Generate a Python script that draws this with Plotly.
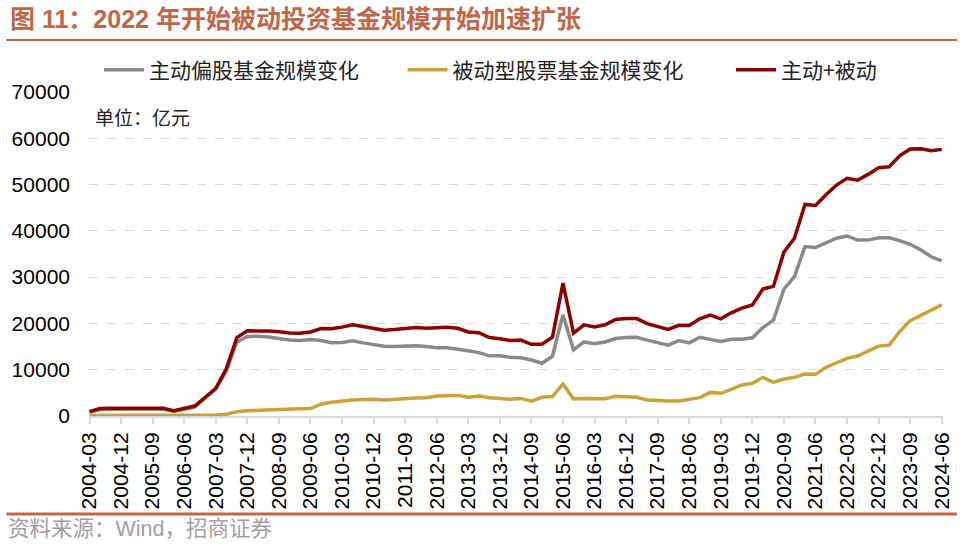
import plotly.graph_objects as go

quarters = [f"{y}-{m:02d}" for y in range(2004, 2025) for m in (3, 6, 9, 12)][:82]

active = [850, 1400, 1500, 1450, 1450, 1450, 1450, 1500, 1000, 1450,
          1950, 3900, 5800, 9700, 16000, 17200, 17250, 17050, 16750, 16400,
          16300, 16500, 16300, 15850, 15900, 16250, 15800, 15400, 15050, 15000,
          15100, 15200, 15000, 14750, 14750, 14500, 14100, 13700, 13000, 13000,
          12700, 12600, 12100, 11400, 12900, 21900, 14300, 16000, 15600, 16000,
          16750, 16950, 17000, 16400, 15900, 15300, 16300, 15800, 17000, 16600,
          16100, 16600, 16600, 16900, 19100, 20700, 27400, 30100, 36600, 36400,
          37300, 38400, 38900, 38000, 38000, 38500, 38500, 37900, 37100, 35900,
          34400, 33500]

passive = [100, 150, 150, 150, 150, 150, 150, 150, 150, 150,
           150, 150, 200, 400, 900, 1150, 1250, 1300, 1500, 1550,
           1550, 1600, 2550, 2950, 3250, 3450, 3550, 3600, 3450, 3650,
           3800, 3900, 3950, 4300, 4400, 4450, 4050, 4300, 3950, 3700,
           3600, 3800, 3200, 4050, 4200, 6900, 3700, 3800, 3750, 3750,
           4250, 4200, 4050, 3460, 3310, 3240, 3240, 3670, 3960, 5100,
           4900, 5750, 6700, 7050, 8350, 7270, 7990, 8350, 9070, 9000,
           10500, 11500, 12450, 12950, 14100, 15100, 15300, 18200, 20600, 21800,
           22900, 24000]

total = [950, 1600, 1650, 1650, 1650, 1650, 1650, 1650, 1150, 1650,
         2150, 4050, 6000, 10200, 16950, 18400, 18450, 18350, 18200, 17950,
         17900, 18150, 18900, 18850, 19200, 19700, 19350, 19000, 18550, 18700,
         18900, 19100, 18950, 19050, 19150, 18950, 18150, 18000, 16950, 16700,
         16300, 16400, 15500, 15500, 17000, 28700, 17900, 19700, 19250, 19700,
         20850, 21050, 21050, 19950, 19300, 18700, 19600, 19550, 21000, 21800,
         21000, 22300, 23300, 24000, 27450, 28000, 35400, 38400, 45700, 45500,
         47800, 49900, 51350, 50950, 52200, 53650, 53850, 56200, 57700, 57750,
         57300, 57600]

names = ["主动偏股基金规模变化", "被动型股票基金规模变化", "主动+被动"]
colors = ["#8A8A8A", "#C9A23A", "#8B0000"]
y_ticks = [0, 10000, 20000, 30000, 40000, 50000, 60000, 70000]
x_ticks = quarters[::3]

W, H = 965, 546
L, R, T, B = 88, 946, 92, 416


def px(x):
    return (x - L) / (R - L)


def py(y):
    return (B - y) / (B - T)


FONT = "Liberation Sans, Arial, Noto Sans CJK SC"
CJK = "Noto Sans CJK SC, Liberation Sans"
TITLE_C = "#C0674A"

fig = go.Figure()
legend_ids = ["legend", "legend2", "legend3"]
for series, name, color, lg in zip([active, passive, total], names, colors, legend_ids):
    fig.add_trace(go.Scatter(x=quarters, y=series, mode="lines", name=name,
                             line=dict(color=color, width=3.5), legend=lg))

leg_common = dict(orientation="h", yanchor="middle", y=py(70), xanchor="left",
                  font=dict(family=CJK, size=21, color="#222222"),
                  bgcolor="rgba(0,0,0,0)", borderwidth=0, itemwidth=40)

fig.update_layout(
    width=W, height=H,
    margin=dict(l=L, r=W - R, t=T, b=H - B),
    paper_bgcolor="white", plot_bgcolor="white",
    showlegend=True,
    legend=dict(x=px(98), **leg_common),
    legend2=dict(x=px(403), **leg_common),
    legend3=dict(x=px(733), **leg_common),
    xaxis=dict(type="category", range=[-0.05, 81.12],
               tickmode="array", tickvals=x_ticks, ticktext=x_ticks,
               tickangle=-90, ticks="outside", ticklen=6, tickwidth=2,
               tickcolor="#D9D9D9", showline=True, linecolor="#D9D9D9",
               linewidth=2, showgrid=False,
               tickfont=dict(family=FONT, size=21, color="#000000")),
    yaxis=dict(range=[0, 70000], tickmode="array", tickvals=y_ticks,
               ticktext=[str(v) for v in y_ticks],
               showgrid=True, gridcolor="#D9D9D9", griddash="dash", gridwidth=1,
               zeroline=False, showline=False, ticks="",
               ticklabelstandoff=18,
               tickfont=dict(family=FONT, size=21, color="#000000")),
    hovermode=False,
)

fig.add_annotation(text="<b>图 11：2022 年开始被动投资基金规模开始加速扩张</b>",
                   xref="paper", yref="paper", x=px(7), y=py(19),
                   xanchor="left", yanchor="middle", showarrow=False,
                   font=dict(family=FONT, size=25, color=TITLE_C))
fig.add_annotation(text="单位：亿元", xref="paper", yref="paper",
                   x=px(92), y=py(116), xanchor="left", yanchor="middle",
                   showarrow=False, font=dict(family=CJK, size=19, color="#222222"))
fig.add_annotation(text="资料来源：Wind，招商证券", xref="paper", yref="paper",
                   x=px(5), y=py(529), xanchor="left", yanchor="middle",
                   showarrow=False, font=dict(family=FONT, size=21.5, color="#A0A0A0"))

fig.add_shape(type="line", xref="paper", yref="paper", x0=px(5), x1=px(960),
              y0=py(40), y1=py(40), line=dict(color=TITLE_C, width=2))
fig.add_shape(type="line", xref="paper", yref="paper", x0=px(5), x1=px(960),
              y0=py(514), y1=py(514), line=dict(color=TITLE_C, width=3))

fig.write_html("out.html")
